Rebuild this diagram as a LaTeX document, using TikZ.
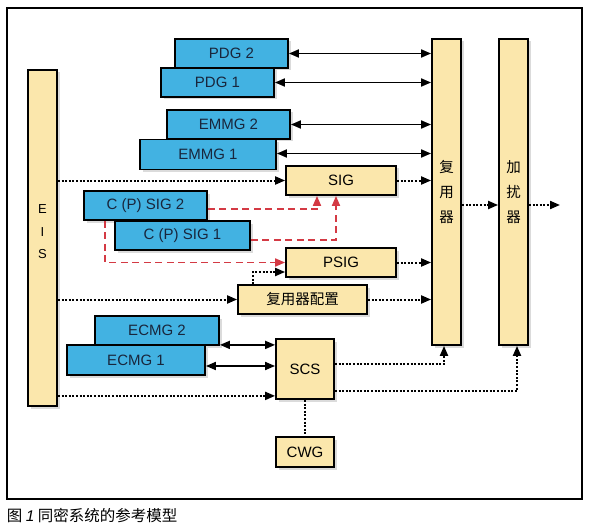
\documentclass[tikz,border=0pt]{standalone}
\usepackage{fontspec}
\setmainfont{Liberation Sans}
\newfontfamily\cjk{Noto Sans CJK SC}
\usetikzlibrary{arrows.meta,shadows}

\definecolor{boxblue}{RGB}{66,178,226}
\definecolor{boxyellow}{RGB}{251,231,172}
\definecolor{sigred}{RGB}{212,58,68}
\definecolor{labelink}{RGB}{25,38,60}

\begin{document}
\begin{tikzpicture}[
  x=1pt,y=-1pt,
  every node/.style={draw,line width=1.8pt,inner sep=0pt,font=\fontsize{15}{18}\selectfont},
  shade box/.style={drop shadow={shadow xshift=2.5pt,shadow yshift=-2.5pt,fill=black!28}},
  bluebox/.style={shade box,fill=boxblue,text=labelink,minimum height=29pt},
  yelbox/.style={shade box,fill=boxyellow,minimum height=29pt},
  column/.style={shade box,fill=boxyellow,minimum width=29pt,align=center},
  biarrow/.style={line width=1.7pt,{Triangle[length=10pt,width=8pt]}-{Triangle[length=10pt,width=8pt]}},
  dotarrow/.style={line width=2pt,dash pattern=on 2pt off 1.6pt,-{Triangle[length=10pt,width=8pt]}},
  redarrow/.style={sigred,line width=1.8pt,dash pattern=on 7pt off 4.5pt,-{Triangle[length=10pt,width=8pt]}},
  ]
  \useasboundingbox (0,0) rectangle (590,527);
  \draw[line width=2.2pt] (7,8) rectangle (582,499);

  % left column and the two right columns
  \node[column,minimum height=336pt,font=\fontsize{13}{21}\selectfont] (eis) at (42.5,238)
    {\raisebox{12pt}{\shortstack{E\\[10.5pt]I\\[10.5pt]S}}};
  \node[column,minimum height=306pt,font=\cjk\fontsize{14.5}{25}\selectfont] (mux) at (446.5,192) {复\\用\\器};
  \node[column,minimum height=306pt,font=\cjk\fontsize{14.5}{25}\selectfont] (scr) at (513.5,192) {加\\扰\\器};

  % generators
  \node[bluebox,minimum width=113pt] (pdgtwo) at (231.5,53.5) {PDG 2};
  \node[bluebox,minimum width=113pt] (pdgone) at (217.5,82.5) {PDG 1};
  \node[bluebox,minimum width=123pt] (emmgtwo) at (228.5,124.5) {EMMG 2};
  \node[bluebox,minimum width=136pt,minimum height=30pt] (emmgone) at (208,154.5) {EMMG 1};
  \node[bluebox,minimum width=123pt] (cpsigtwo) at (145.5,205.5) {C (P) SIG 2};
  \node[bluebox,minimum width=135pt] (cpsigone) at (182.5,235.5) {C (P) SIG 1};
  \node[bluebox,minimum width=124pt] (ecmgtwo) at (157,330.5) {ECMG 2};
  \node[bluebox,minimum width=138pt,minimum height=30pt] (ecmgone) at (136,360) {ECMG 1};

  \node[yelbox,minimum width=110pt] (sig) at (341,180.5) {SIG};
  \node[yelbox,minimum width=110pt] (psig) at (341,262.5) {PSIG};
  \node[yelbox,minimum width=129pt,font=\cjk\fontsize{14.5}{18}\selectfont] (muxcfg) at (302.5,299.5) {复用器配置};
  \node[yelbox,minimum width=58pt,minimum height=60pt] (scs) at (305,369) {SCS};
  \node[yelbox,minimum width=58pt,minimum height=30pt] (cwg) at (305,452) {CWG};

  \coordinate (out) at (560,205);
  \coordinate (scsin) at ([yshift=4pt]scs.south west);

  \draw[biarrow] (pdgtwo.east) -- (pdgtwo.east -| mux.west);
  \draw[biarrow] (pdgone.east) -- (pdgone.east -| mux.west);
  \draw[biarrow] (emmgtwo.east) -- (emmgtwo.east -| mux.west);
  \draw[biarrow] ([yshift=1pt]emmgone.east) -- ([yshift=1pt]emmgone.east -| mux.west);
  \draw[biarrow] ([yshift=1pt]ecmgtwo.south east) -- ([yshift=1pt]ecmgtwo.south east -| scs.west);
  \draw[biarrow] ([yshift=-6pt]ecmgone.east) -- ([yshift=-6pt]ecmgone.east -| scs.west);

  \draw[dotarrow] (eis.east |- sig.west) -- (sig.west);
  \draw[dotarrow] (sig.east) -- (sig.east -| mux.west);
  \draw[dotarrow] (psig.east) -- (psig.east -| mux.west);
  \draw[dotarrow] (eis.east |- muxcfg.west) -- (muxcfg.west);
  \draw[dotarrow] (muxcfg.east) -- (muxcfg.east -| mux.west);
  \draw[dotarrow] ([xshift=-49.5pt]muxcfg.north) |- ([yshift=-9.5pt]psig.west);
  \draw[dotarrow] (eis.east |- scsin) -- (scsin);
  \draw[dotarrow] ([yshift=5pt]scs.east) -| ([xshift=-2.5pt]mux.south);
  \draw[dotarrow] ([yshift=-22pt]scs.east) -| ([xshift=3.5pt]scr.south);
  \draw[dotarrow] ([yshift=-13pt]mux.east) -- (out -| scr.west);
  \draw[dotarrow] (out -| scr.east) -- (out);
  \draw[line width=2pt,dash pattern=on 2pt off 1.6pt] (scs.south) -- (cwg.north);

  \draw[redarrow] ([yshift=-3.5pt]cpsigtwo.east) -| ([xshift=-24pt]sig.south);
  \draw[redarrow] ([yshift=-4.5pt]cpsigone.east) -| ([xshift=-5pt]sig.south);
  \draw[redarrow] ([xshift=-40.5pt]cpsigtwo.south) |- (psig.west);

  \node[draw=none,anchor=west,font=\cjk\fontsize{15.5}{18}\selectfont] (caption) at (6,516)
    {图 {\normalfont\itshape 1} 同密系统的参考模型};
\end{tikzpicture}
\end{document}
